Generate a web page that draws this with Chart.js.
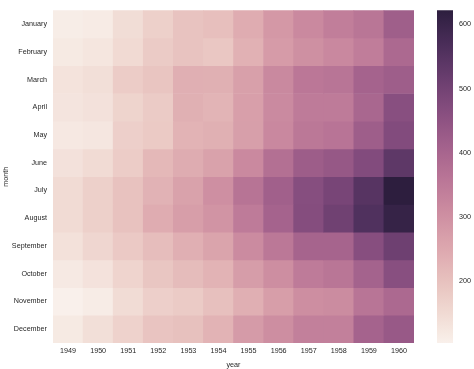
<!DOCTYPE html>
<html>
<head>
<meta charset="utf-8">
<script src="https://cdn.jsdelivr.net/npm/chart.js@4/dist/chart.umd.min.js"></script>
<style>
  html, body { margin: 0; padding: 0; background: #fff; }
  #wrap { position: relative; width: 474px; height: 369px; }
  #wrap canvas { position: absolute; left: 0; top: 0; }
</style>
</head>
<body>
<div id="wrap">
  <canvas id="heat" width="474" height="369"></canvas>
  <canvas id="cbar" width="474" height="369"></canvas>
</div>
<script>
const years = ['1949', '1950', '1951', '1952', '1953', '1954', '1955', '1956', '1957', '1958', '1959', '1960'];
const months = ['January', 'February', 'March', 'April', 'May', 'June', 'July', 'August',
  'September', 'October', 'November', 'December'];
// passengers per month, one array per year
const p1949 = [112, 118, 132, 129, 121, 135, 148, 148, 136, 119, 104, 118];
const p1950 = [115, 126, 141, 135, 125, 149, 170, 170, 158, 133, 114, 140];
const p1951 = [145, 150, 178, 163, 172, 178, 199, 199, 184, 162, 146, 166];
const p1952 = [171, 180, 193, 181, 183, 218, 230, 242, 209, 191, 172, 194];
const p1953 = [196, 196, 236, 235, 229, 243, 264, 272, 237, 211, 180, 201];
const p1954 = [204, 188, 235, 227, 234, 264, 302, 293, 259, 229, 203, 229];
const p1955 = [242, 233, 267, 269, 270, 315, 364, 347, 312, 274, 237, 278];
const p1956 = [284, 277, 317, 313, 318, 374, 413, 405, 355, 306, 271, 306];
const p1957 = [315, 301, 356, 348, 355, 422, 465, 467, 404, 347, 305, 336];
const p1958 = [340, 318, 362, 348, 363, 435, 491, 505, 404, 359, 310, 337];
const p1959 = [360, 342, 406, 396, 420, 472, 548, 559, 463, 407, 362, 405];
const p1960 = [417, 391, 419, 461, 472, 535, 622, 606, 508, 461, 390, 432];
const byYear = [p1949, p1950, p1951, p1952, p1953, p1954, p1955, p1956, p1957, p1958, p1959, p1960];
const cbarTicks = [200, 300, 400, 500, 600];

const all = byYear.flat();
const vmin = Math.min(...all);
const vmax = Math.max(...all);

// seaborn cubehelix_palette(light=.95, as_cmap=True)
function cubehelix(x) {
  const s = 0, r = 0.4, h = 0.8;
  const a = h * x * (1 - x) / 2;
  const phi = 2 * Math.PI * (s / 3 + r * x);
  const c = Math.cos(phi), sn = Math.sin(phi);
  const clip = v => Math.round(255 * Math.max(0, Math.min(1, v)));
  const R = x + a * (-0.14861 * c + 1.78277 * sn);
  const G = x + a * (-0.29227 * c - 0.90649 * sn);
  const B = x + a * (1.97294 * c);
  return `rgb(${clip(R)},${clip(G)},${clip(B)})`;
}
const colorFor = t => cubehelix(0.95 - 0.8 * t);
const colorOf = v => colorFor((v - vmin) / (vmax - vmin));

const font = {family: '"Liberation Sans", Arial, sans-serif', size: 7.2};
const textColor = '#262626';

const datasets = months.map((m, i) => ({
  label: m,
  data: years.map(() => [i, i + 1]),
  backgroundColor: byYear.map(col => colorOf(col[i])),
  borderWidth: 0,
  grouped: false,
  barPercentage: 1,
  categoryPercentage: 1
}));

new Chart(document.getElementById('heat'), {
  type: 'bar',
  data: {labels: years, datasets},
  options: {
    responsive: false,
    animation: false,
    layout: {padding: {left: 0, right: 60, top: 5, bottom: 0}},
    plugins: {legend: {display: false}, tooltip: {enabled: false}},
    scales: {
      x: {
        grid: {display: false, drawTicks: false},
        border: {display: false},
        ticks: {font, color: textColor, padding: 4, maxRotation: 0},
        title: {display: true, text: 'year', font, color: textColor, padding: {top: 1, bottom: 0}},
        afterFit: s => { s.height = 26; }
      },
      y: {
        type: 'linear',
        min: 0,
        max: 12,
        reverse: true,
        grid: {display: false, drawTicks: false},
        border: {display: false},
        afterBuildTicks: s => { s.ticks = months.map((m, i) => ({value: i + 0.5})); },
        ticks: {font, color: textColor, padding: 6, callback: (v, i) => months[i]},
        title: {display: true, text: 'month', font, color: textColor, padding: {top: 2, bottom: 0}},
        afterFit: s => { s.width = 53; }
      }
    }
  }
});

new Chart(document.getElementById('cbar'), {
  type: 'bar',
  data: {
    labels: ['cb'],
    datasets: [{
      data: [[vmin, vmax]],
      borderWidth: 0,
      barPercentage: 1,
      categoryPercentage: 1,
      backgroundColor: ctx => {
        const chart = ctx.chart;
        const ys = chart.scales.y;
        if (!chart.chartArea || !ys) return 'rgba(0,0,0,0)';
        const g = chart.ctx.createLinearGradient(0, ys.getPixelForValue(vmin), 0, ys.getPixelForValue(vmax));
        for (let k = 0; k <= 32; k++) g.addColorStop(k / 32, colorFor(k / 32));
        return g;
      }
    }]
  },
  options: {
    responsive: false,
    animation: false,
    layout: {padding: {left: 437, right: 0, top: 5, bottom: 26}},
    plugins: {legend: {display: false}, tooltip: {enabled: false}},
    scales: {
      x: {display: false},
      y: {
        position: 'right',
        min: vmin,
        max: vmax,
        grid: {display: false, drawTicks: false},
        border: {display: false},
        afterBuildTicks: s => { s.ticks = cbarTicks.map(v => ({value: v})); },
        ticks: {font, color: textColor, padding: 6},
        afterFit: s => { s.width = 21; }
      }
    }
  }
});
</script>
</body>
</html>
